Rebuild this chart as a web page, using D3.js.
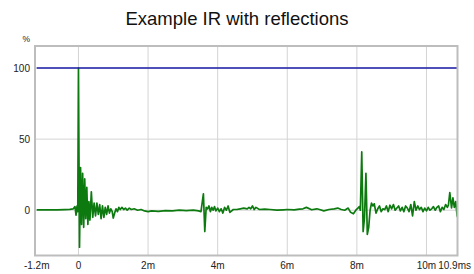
<!DOCTYPE html>
<html><head><meta charset="utf-8">
<script src="https://cdn.jsdelivr.net/npm/d3@7"></script>
<style>body{margin:0;background:#fff;}svg{display:block;font-family:"Liberation Sans",Arial,sans-serif;}</style>
</head><body>
<svg id="c" width="474" height="274"></svg>
<script>
const title = "Example IR with reflections";
const xTicks = [-1.2, 0, 2, 4, 6, 8, 10, 10.9];
const xGrid = [0, 2, 4, 6, 8, 10];
const yTicks = [0, 50, 100];
const xDomain = [-1.2, 10.9];
const yDomain = [-31.5, 115.5];
const refTimes = [-1.2, 10.9];
const refLevel = [100, 100];
const times = [-1.2,-0.9,-0.6,-0.4,-0.25,-0.15,-0.1,-0.07,-0.04,-0.02,0,0.03,0.06,0.09,0.12,0.15,0.18,0.21,0.24,0.27,0.3,0.33,0.37,0.41,0.45,0.49,0.53,0.57,0.61,0.65,0.69,0.73,0.77,0.81,0.85,0.89,0.93,0.97,1.0,1.04,1.08,1.12,1.16,1.2,1.25,1.3,1.35,1.4,1.46,1.52,1.6,1.7,1.8,1.9,2.0,2.1,2.3,2.5,2.7,2.9,3.1,3.3,3.45,3.52,3.59,3.63,3.67,3.71,3.75,3.79,3.83,3.87,3.91,3.95,4.0,4.05,4.1,4.15,4.2,4.25,4.3,4.35,4.45,4.55,4.65,4.75,4.85,4.9,4.95,5.0,5.05,5.1,5.2,5.35,5.5,5.7,5.9,6.0,6.2,6.35,6.45,6.55,6.7,6.85,6.95,7.05,7.2,7.35,7.45,7.55,7.65,7.75,7.82,7.9,7.97,8.03,8.07,8.1,8.14,8.18,8.22,8.26,8.3,8.34,8.38,8.42,8.46,8.5,8.55,8.6,8.65,8.7,8.75,8.8,8.85,8.9,8.95,9.0,9.05,9.1,9.15,9.2,9.25,9.3,9.35,9.4,9.45,9.5,9.55,9.6,9.65,9.7,9.75,9.8,9.85,9.9,9.95,10.0,10.05,10.1,10.15,10.2,10.25,10.3,10.35,10.4,10.45,10.5,10.55,10.6,10.63,10.67,10.72,10.76,10.8,10.84,10.88,10.9];
const values = [0.2,0.3,0.2,0.4,0.6,1.0,2.5,-3.5,3,-1,100,-26,30,-10,26,-12,22,-6,16,-10,6,-7,13,-5,5,-4,5,-3,4,-6,3,-5,2,-3,3,-2,1,-1,-5.5,-2,1,-1,2,0.5,2,0.5,1.5,0,1.5,0.5,1,0,0.5,-0.5,-1,-0.5,-0.8,-0.3,-0.5,0,-0.3,0,-0.5,-1,11.5,-15,2,1,3,-1,2,0,2.5,-0.5,1.5,-1,1,-2,2,0,3,-1.5,0.5,0.5,1,1.5,1,2,1,3,0.5,2,0.5,0.8,0.5,0,0.3,0.5,0.3,0.8,1,2,0.3,1,0.3,-0.5,0.5,1,1.5,0.5,0,1.5,-1.5,-2.5,0,1.5,2.5,0,41,-15,-5,26,-17,-12,0,5,3,4.5,-2,1,3,-1,1,0.5,3,-1,3.5,1,4,0,1.5,3,-0.5,2,-1,3,1.5,-1,4,-4,6,0,3,0.5,2,-1,1.5,-0.5,2,0,1,2.5,0,2,3,-1,2,0.5,4,2,3.5,12.4,1.6,8.7,2,6,-4,-5,-3];

const svg = d3.select("#c");
const L = 35, R = 457.5, T = 46, B = 255.5;
const x = d3.scaleLinear().domain(xDomain).range([36.7, 457.8]);
const y = d3.scaleLinear().domain(yDomain).range([255, 46]);

svg.append("text").attr("x", 237).attr("y", 25).attr("text-anchor", "middle")
  .attr("font-size", 18.5).attr("fill", "#111").text(title);

svg.append("defs").append("clipPath").attr("id", "pc")
  .append("rect").attr("x", L).attr("y", T).attr("width", R - L).attr("height", B - T);

const g = svg.append("g");
g.selectAll(".vg").data(xGrid).enter().append("line")
  .attr("x1", d => x(d)).attr("x2", d => x(d)).attr("y1", T).attr("y2", B)
  .attr("stroke", "#d4d4d4").attr("stroke-width", 1);
g.selectAll(".hg").data(yTicks).enter().append("line")
  .attr("y1", d => y(d)).attr("y2", d => y(d)).attr("x1", L).attr("x2", R)
  .attr("stroke", "#d4d4d4").attr("stroke-width", 1);

const line = d3.line().x(d => x(d[0])).y(d => y(d[1]));
const pg = g.append("g").attr("clip-path", "url(#pc)");
pg.append("path").datum(times.map((t, i) => [t, values[i]]))
  .attr("d", line).attr("fill", "none").attr("stroke", "#0d7a10").attr("stroke-width", 1.7)
  .attr("stroke-linejoin", "round");
pg.append("path").datum(refTimes.map((t, i) => [t, refLevel[i]]))
  .attr("d", line).attr("fill", "none").attr("stroke", "#1c1cab").attr("stroke-width", 1.6);

svg.append("rect").attr("x", L).attr("y", T).attr("width", R - L).attr("height", B - T)
  .attr("fill", "none").attr("stroke", "#bdbdbd").attr("stroke-width", 2);

// x axis labels
const fmtX = d => d === 0 ? "0" : (d === 10.9 ? "10.9ms" : d + "m");
svg.selectAll(".xl").data(xTicks).enter().append("text")
  .attr("x", d => d === 10.9 ? 471 : x(d)).attr("y", 269)
  .attr("text-anchor", d => d === 10.9 ? "end" : "middle")
  .attr("font-size", 10).attr("fill", "#222").text(fmtX);
// y axis labels
svg.selectAll(".yl").data(yTicks).enter().append("text")
  .attr("x", 30).attr("y", d => y(d) + 3.5)
  .attr("text-anchor", "end").attr("font-size", 10).attr("fill", "#222").text(d => d);
svg.append("text").attr("x", 30).attr("y", 42).attr("text-anchor", "end")
  .attr("font-size", 8.5).attr("fill", "#222").text("%");
</script>
</body></html>
